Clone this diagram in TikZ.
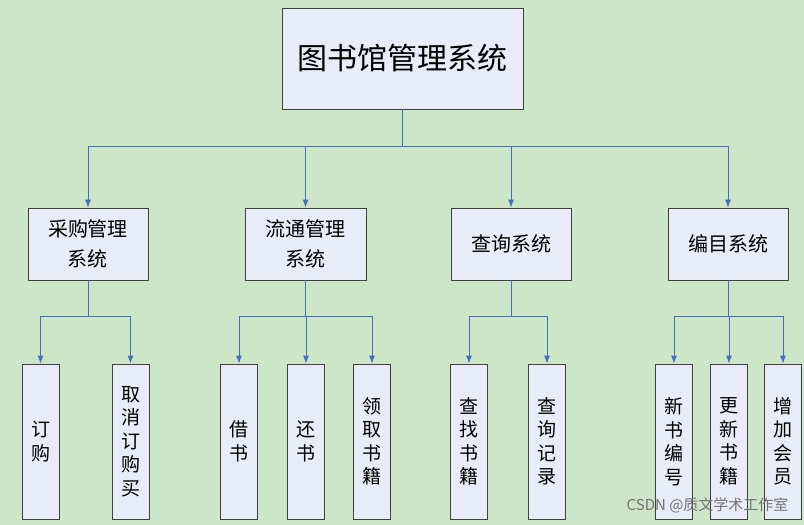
\documentclass[tikz,border=0pt]{standalone}
\usepackage{fontspec}
\newfontfamily\cjk{Noto Sans CJK SC}
\begin{document}
\begin{tikzpicture}[x=1pt,y=-1pt,
  bx/.style={draw=black!75,fill=boxc,line width=0.8pt,inner sep=0pt,font=\cjk\fontsize{20}{30}\selectfont,align=center},
  ar/.style={draw=arc,line width=0.8pt,-{Latex[length=8pt,width=6pt]}},
  ln/.style={draw=arc,line width=0.8pt}]
\usetikzlibrary{arrows.meta}
\definecolor{bg}{RGB}{206,230,200}
\definecolor{boxc}{RGB}{232,236,248}
\definecolor{arc}{RGB}{70,110,190}
\fill[bg] (0,0) rectangle (804,525);
\useasboundingbox (0,0) rectangle (804,525);
\node[bx,minimum width=241pt,minimum height=101pt,font=\cjk\fontsize{30}{34}\selectfont] (top) at (402.5,58.5) {图书馆管理系统};
\node[bx,minimum width=120pt,minimum height=72pt] (a) at (88,244) {采购管理\\系统};
\node[bx,minimum width=121pt,minimum height=72pt] (b) at (305.5,244) {流通管理\\系统};
\node[bx,minimum width=120pt,minimum height=72pt] (c) at (511,244) {查询系统};
\node[bx,minimum width=120pt,minimum height=72pt] (d) at (728,244) {编目系统};
\foreach \n/\x/\t in {a1/40.5/订\\购, a2/130.5/取\\消\\订\\购\\买, b1/239/借\\书, b2/306/还\\书, b3/372/领\\取\\书\\籍, c1/469/查\\找\\书\\籍, c2/547/查\\询\\记\\录, d1/674/新\\书\\编\\号, d2/729/更\\新\\书\\籍, d3/783/增\\加\\会\\员}
  \node[bx,minimum width=37pt,minimum height=155pt,font=\cjk\fontsize{19}{23.5}\selectfont] (\n) at (\x,441.5) {\t};
\coordinate (j0) at (402.5,146);
\draw[ln] (top.south) -- (j0);
\draw[ln] (88,146) -- (728,146);
\foreach \n in {a,b,c,d} \draw[ar] (\n.north |- j0) -- (\n.north);
\foreach \p/\cs in {a/{a1,a2},b/{b1,b2,b3},c/{c1,c2},d/{d1,d2,d3}}{
  \draw[ln] (\p.south) -- ++(0,36);
  \foreach \q in \cs \draw[ar] (\q.north |- 0,316) -- (\q.north);
}
\draw[ln] (40.5,316) -- (130.5,316);
\draw[ln] (239,316) -- (372,316);
\draw[ln] (469,316) -- (547,316);
\draw[ln] (674,316) -- (783,316);
\node[font=\cjk\fontsize{15}{17}\selectfont,text=black!55,anchor=east] (wm) at (792,505) {CSDN @质文学术工作室};
\end{tikzpicture}
\end{document}
